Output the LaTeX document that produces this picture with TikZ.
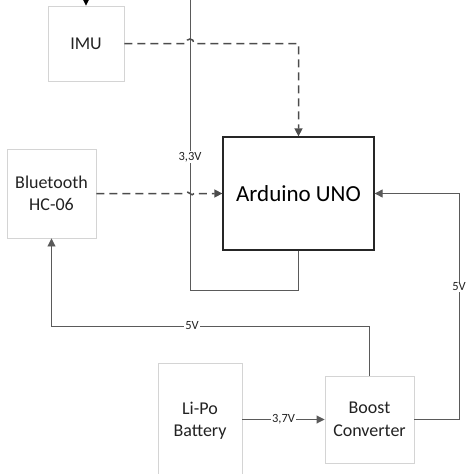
\documentclass[tikz,border=0pt]{standalone}
\usepackage{fontspec}
\setmainfont{Carlito}
\usetikzlibrary{arrows.meta}
\definecolor{boxgray}{HTML}{D4D4D4}
\definecolor{linegray}{HTML}{5A5A5A}
\definecolor{txt}{HTML}{222222}
\tikzset{
  lightbox/.style={draw=boxgray, line width=0.9pt, fill=white, align=center, text=txt, font=\fontsize{18}{22.5}\selectfont, inner sep=0pt},
  mainbox/.style={draw=black!85, line width=1.3pt, fill=white, align=center, text=black, font=\fontsize{23}{27}\selectfont, inner sep=0pt},
  wire/.style={draw=linegray, line width=0.9pt},
  dwire/.style={draw=black!70, line width=1.5pt, dash pattern=on 8pt off 5pt},
  tip/.style={-{Triangle[length=8pt,width=8pt]}},
  vlab/.style={fill=white, inner sep=1pt, text=txt, font=\fontsize{12.5}{14}\selectfont}
}
\begin{document}
\begin{tikzpicture}[x=1pt,y=-1pt]
\useasboundingbox (0,0) rectangle (474,474);
\clip (0,0) rectangle (474,474);
% boxes
\node[lightbox, minimum width=76pt, minimum height=75pt] (imu) at (86,43.5) {IMU};
\node[lightbox, minimum width=89pt, minimum height=89pt] (bt) at (51.5,193.5) {Bluetooth\\HC-06};
\node[mainbox, minimum width=151pt, minimum height=113pt] (ard) at (298.5,193.5) {Arduino UNO};
\node[lightbox, minimum width=89pt, minimum height=87pt] (boost) at (369.5,419.5) {Boost\\Converter};
\node[lightbox, minimum width=84pt, minimum height=116pt] (lipo) at (200,421) {Li-Po\\Battery};
% top arrow into IMU
\coordinate (imutop) at (86,-3);
\draw[wire, tip, draw=black] (imutop) -- (imu.north);
% 3.3V loop from Arduino
\coordinate (c1) at (298.5,290);
\coordinate (c2) at (190,290);
\coordinate (c3) at (190,-3);
\draw[wire] (ard.south) -- (c1) -- (c2) -- (c3);
\node[vlab] (l33) at (190,157) {3,3V};
% IMU dashed to Arduino (with hop)
\coordinate (h1a) at (186,43.5);
\coordinate (h1b) at (194,43.5);
\coordinate (d1) at (298.5,43.5);
\draw[dwire, tip] (imu.east) -- (h1a) .. controls (186,37.5) and (194,37.5) .. (h1b) -- (d1) -- (ard.north);
% Bluetooth dashed to Arduino (with hop)
\coordinate (h2a) at (186,193.5);
\coordinate (h2b) at (194,193.5);
\draw[dwire, tip] (bt.east) -- (h2a) .. controls (188,189) and (192,198) .. (h2b) -- (ard.west);
% Boost to Arduino 5V
\coordinate (r1) at (459,419.5);
\coordinate (r2) at (459,193.5);
\draw[wire, tip] (boost.east) -- (r1) -- (r2) -- (ard.east);
\node[vlab] (l5a) at (459,287) {5V};
% Boost to Bluetooth 5V
\coordinate (b1) at (369.5,326);
\coordinate (b2) at (51.5,326);
\draw[wire, tip] (boost.north) -- (b1) -- (b2) -- (bt.south);
\node[vlab] (l5b) at (192,326) {5V};
% LiPo to Boost
\draw[wire, tip] (lipo.east |- boost.west) -- node[vlab] (l37) {3,7V} (boost.west);
\end{tikzpicture}
\end{document}
